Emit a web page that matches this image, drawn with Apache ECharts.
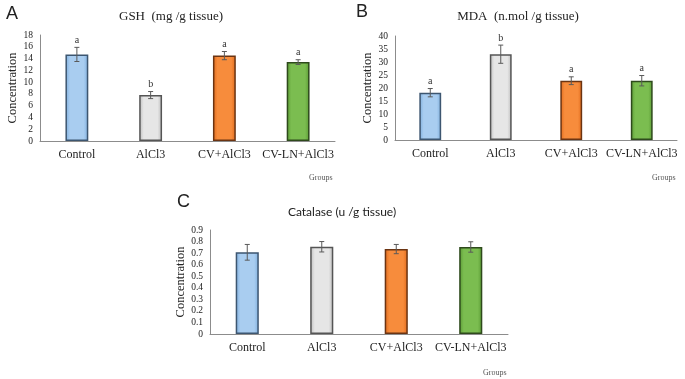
<!DOCTYPE html>
<html><head><meta charset="utf-8">
<script src="https://cdn.jsdelivr.net/npm/echarts@6/dist/echarts.min.js"></script>
<style>html,body{margin:0;padding:0;background:#fff}#c{width:685px;height:379px}</style>
</head><body><div id="c"></div>
<script>
const categories = ['Control', 'AlCl3', 'CV+AlCl3', 'CV-LN+AlCl3'];
const gshMean = [14.7, 7.8, 14.5, 13.4];
const gshErr = [1.2, 0.6, 0.7, 0.4];
const gshLetters = ['a', 'b', 'a', 'a'];
const mdaMean = [18.2, 33.0, 22.8, 22.8];
const mdaErr = [1.6, 3.5, 1.5, 2.0];
const mdaLetters = ['a', 'b', 'a', 'a'];
const catMean = [0.707, 0.755, 0.735, 0.753];
const catErr = [0.068, 0.045, 0.04, 0.045];
const catLetters = ['', '', '', ''];

const serif = 'Liberation Serif';
const sans = 'Liberation Sans';
const barColors = [
  {edge: '#7eaedd', mid: '#a9cdf0', border: '#3d5670'},
  {edge: '#bdbdbd', mid: '#e6e6e6', border: '#555555'},
  {edge: '#e06a1c', mid: '#f78c3c', border: '#6b3412'},
  {edge: '#5a9a34', mid: '#7bbd50', border: '#2e4a1c'}
];
function grad(c) {
  return {type: 'linear', x: 0, y: 0, x2: 1, y2: 0, colorStops: [
    {offset: 0, color: c.edge}, {offset: 0.2, color: c.mid}, {offset: 0.8, color: c.mid}, {offset: 1, color: c.edge}]};
}

const grids = [
  {left: 40, top: 35, width: 295, height: 106},
  {left: 395, top: 36, width: 282, height: 104},
  {left: 210, top: 230, width: 298, height: 104}
];
const yCfg = [
  {max: 18, interval: 2, gap: 17},
  {max: 40, interval: 5, gap: 17},
  {max: 0.9, interval: 0.1, gap: 19}
];
const means = [gshMean, mdaMean, catMean];
const errs = [gshErr, mdaErr, catErr];
const letters = [gshLetters, mdaLetters, catLetters];

const xAxis = [], yAxis = [], series = [];
for (let i = 0; i < 3; i++) {
  xAxis.push({type: 'category', gridIndex: i, data: categories,
    axisLine: {lineStyle: {color: '#8c8c8c', width: 1}}, axisTick: {show: false},
    axisLabel: {fontFamily: serif, fontSize: 12, color: '#222', margin: 8, interval: 0}});
  yAxis.push({type: 'value', gridIndex: i, min: 0, max: yCfg[i].max, interval: yCfg[i].interval,
    name: 'Concentration', nameLocation: 'middle', nameGap: yCfg[i].gap,
    nameTextStyle: {fontFamily: serif, fontSize: 12.5, color: '#222'},
    axisLine: {show: true, lineStyle: {color: '#8c8c8c'}}, axisTick: {show: false}, splitLine: {show: false},
    axisLabel: {fontFamily: serif, fontSize: 9.5, color: '#222', margin: 7}});
  series.push({type: 'bar', xAxisIndex: i, yAxisIndex: i, barWidth: '31%',
    data: means[i].map((v, k) => ({value: v, itemStyle: {color: grad(barColors[k]), borderColor: barColors[k].border, borderWidth: 1.5}}))});
  const m = means[i], e = errs[i], L = letters[i];
  series.push({type: 'custom', xAxisIndex: i, yAxisIndex: i, z: 5,
    data: m.map((v, k) => [k, v, e[k]]),
    renderItem: function (params, api) {
      const k = api.value(0), v = api.value(1), d = api.value(2);
      const top = api.coord([k, v + d]), bot = api.coord([k, v - d]);
      const x = top[0], cw = 2.5;
      const st = {stroke: '#5a5a5a', lineWidth: 1};
      const ch = [
        {type: 'line', shape: {x1: x, y1: top[1], x2: x, y2: bot[1]}, style: st},
        {type: 'line', shape: {x1: x - cw, y1: top[1], x2: x + cw, y2: top[1]}, style: st},
        {type: 'line', shape: {x1: x - cw, y1: bot[1], x2: x + cw, y2: bot[1]}, style: st}
      ];
      if (L[k]) ch.push({type: 'text', style: {text: L[k], x: x, y: top[1] - 2, textAlign: 'center', textVerticalAlign: 'bottom', fontFamily: serif, fontSize: 10, fill: '#333'}});
      return {type: 'group', children: ch};
    }});
}

const chart = echarts.init(document.getElementById('c'), null, {renderer: 'canvas'});
chart.setOption({
  animation: false,
  grid: grids,
  xAxis: xAxis, yAxis: yAxis, series: series,
  graphic: [
    {type: 'text', left: 6, top: 5, style: {text: 'A', fontFamily: sans, fontSize: 18, fill: '#222'}},
    {type: 'text', left: 356, top: 3, style: {text: 'B', fontFamily: sans, fontSize: 18, fill: '#222'}},
    {type: 'text', left: 177, top: 193, style: {text: 'C', fontFamily: sans, fontSize: 18, fill: '#222'}},
    {type: 'text', x: 171, y: 17, style: {text: 'GSH  (mg /g tissue)', textAlign: 'center', textVerticalAlign: 'middle', fontFamily: serif, fontSize: 13, fill: '#222'}},
    {type: 'text', x: 518, y: 17, style: {text: 'MDA  (n.mol /g tissue)', textAlign: 'center', textVerticalAlign: 'middle', fontFamily: serif, fontSize: 13, fill: '#222'}},
    {type: 'text', x: 342, y: 212, style: {text: 'Catalase (u /g tissue)', textAlign: 'center', textVerticalAlign: 'middle', fontFamily: 'Lato', fontSize: 12, fill: '#222'}},
    {type: 'text', x: 309, y: 178, style: {text: 'Groups', textVerticalAlign: 'middle', fontFamily: serif, fontSize: 8, fill: '#555'}},
    {type: 'text', x: 652, y: 178, style: {text: 'Groups', textVerticalAlign: 'middle', fontFamily: serif, fontSize: 8, fill: '#555'}},
    {type: 'text', x: 483, y: 373, style: {text: 'Groups', textVerticalAlign: 'middle', fontFamily: serif, fontSize: 8, fill: '#555'}}
  ]
});
</script></body></html>
